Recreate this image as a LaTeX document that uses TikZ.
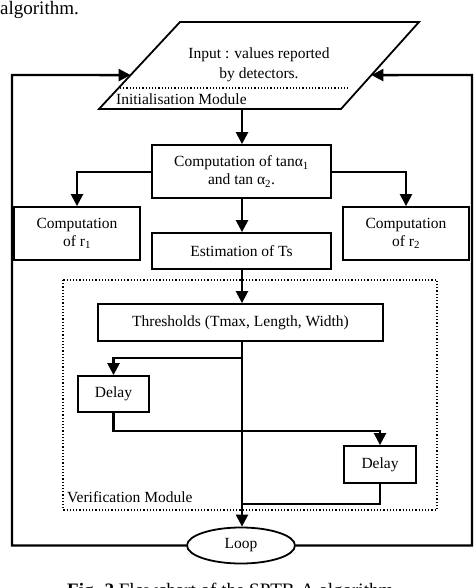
\documentclass[tikz,border=0pt]{standalone}
\usepackage{fontspec}
\setmainfont{Liberation Serif}
\usetikzlibrary{arrows.meta}
\usetikzlibrary{shapes.geometric}
\usetikzlibrary{calc}

\begin{document}
\begin{tikzpicture}[x=1pt, y=-1pt]
        % ================= 样式定义 =================
        \tikzset{
            % 方框节点:白底黑边矩形
            boxnode/.style={rectangle, draw=black, line width=1.8pt, fill=white, align=center, inner sep=0pt, font=\fontsize{15.5}{18}\selectfont},
            % 带箭头的粗流程线
            flow_line/.style={line width=2.4pt, -{Triangle[length=12pt, width=12pt]}},
            % 无箭头的粗连接线
            plain_line/.style={line width=2.4pt},
            % 模块虚线框
            module_box/.style={line width=1.2pt, dotted}
        }

        % 页面大小 (像素坐标)
        \useasboundingbox (0,0) rectangle (474,588);

        % ================= 页面上下文字 =================
        \node[anchor=base west, inner sep=0pt, font=\fontsize{19}{22}\selectfont] (prevtext) at (0,15) {algorithm.};
        \node[anchor=base west, inner sep=0pt, font=\fontsize{19}{22}\selectfont] (caption) at (67,596) {\textbf{Fig. 2} Flowchart of the SPTB-A algorithm};

        % ================= 初始化模块 (平行四边形) =================
        \coordinate (in_bl) at (99,109);
        \coordinate (in_tl) at (180,22);
        \coordinate (in_tr) at (419,22);
        \coordinate (in_br) at (341,109);
        \draw[line width=1.8pt] (in_bl) -- (in_tl) -- (in_tr) -- (in_br) -- cycle;
        \node[align=center, font=\fontsize{15.5}{20}\selectfont] (input) at (259,65) {Input : values reported\\ by detectors.};
        \draw[module_box] (120,88) -- (348,88);
        \node[anchor=west, inner sep=0pt, font=\fontsize{15.5}{18}\selectfont] (initlabel) at (116,99) {Initialisation Module};
        \coordinate (in_out) at (242,109);
        \coordinate (in_left) at ($(in_bl)!0.39!(in_tl)$);
        \coordinate (in_right) at ($(in_br)!0.39!(in_tr)$);

        % ================= 计算节点 =================
        \node[boxnode, minimum width=179pt, minimum height=53pt] (tan) at (241.5,171.5) {Computation of tanα\textsubscript{1}\\ and tan α\textsubscript{2}.};
        \node[boxnode, minimum width=126pt, minimum height=53pt] (rone) at (77,233.5) {Computation\\ of r\textsubscript{1}};
        \node[boxnode, minimum width=126pt, minimum height=53pt] (rtwo) at (406,233.5) {Computation\\ of r\textsubscript{2}};
        \node[boxnode, minimum width=179pt, minimum height=36pt] (est) at (241.5,251) {Estimation of Ts};

        % ================= 验证模块 =================
        \draw[module_box] (63,280) rectangle (437,510);
        \node[anchor=west, inner sep=0pt, font=\fontsize{15.5}{18}\selectfont] (veriflabel) at (67,497) {Verification Module};
        \node[boxnode, minimum width=285pt, minimum height=37pt] (thr) at (240.5,322.5) {Thresholds (Tmax, Length, Width)};
        \node[boxnode, minimum width=71pt, minimum height=36pt] (delayone) at (113.5,394) {Delay};
        \node[boxnode, minimum width=72pt, minimum height=37pt] (delaytwo) at (380,464.5) {Delay};
        \node[ellipse, draw=black, line width=1.8pt, fill=white, minimum width=108pt, minimum height=36pt, inner sep=0pt, font=\fontsize{15.5}{18}\selectfont] (loop) at (241,545.5) {Loop};
        \coordinate (split) at (242,358);
        \coordinate (merge) at (242,504);

        % ================= 连接线 =================
        \draw[flow_line] (in_out) -- (in_out |- tan.north);
        \draw[flow_line] (tan.west |- 0,172) -| (rone.north);
        \draw[flow_line] (tan.east |- 0,172) -| (rtwo.north);
        \draw[flow_line] (tan.south -| in_out) -- (est.north -| in_out);
        \draw[flow_line] (est.south -| in_out) -- (thr.north -| in_out);
        \draw[flow_line] (thr.south -| in_out) -- (loop.north -| in_out);
        \draw[flow_line] (split) -| (delayone.north);
        \draw[flow_line] (delayone.south) -- ++(0,18) -| (delaytwo.north);
        \draw[plain_line] (delaytwo.south) |- (merge);

        % 外部回路 (Loop 回到输入)
        \draw[flow_line] (loop.west) -| (12,75) -- (in_left);
        \draw[flow_line] (loop.east) -| (472,75) -- (in_right);

    \end{tikzpicture}
\end{document}
